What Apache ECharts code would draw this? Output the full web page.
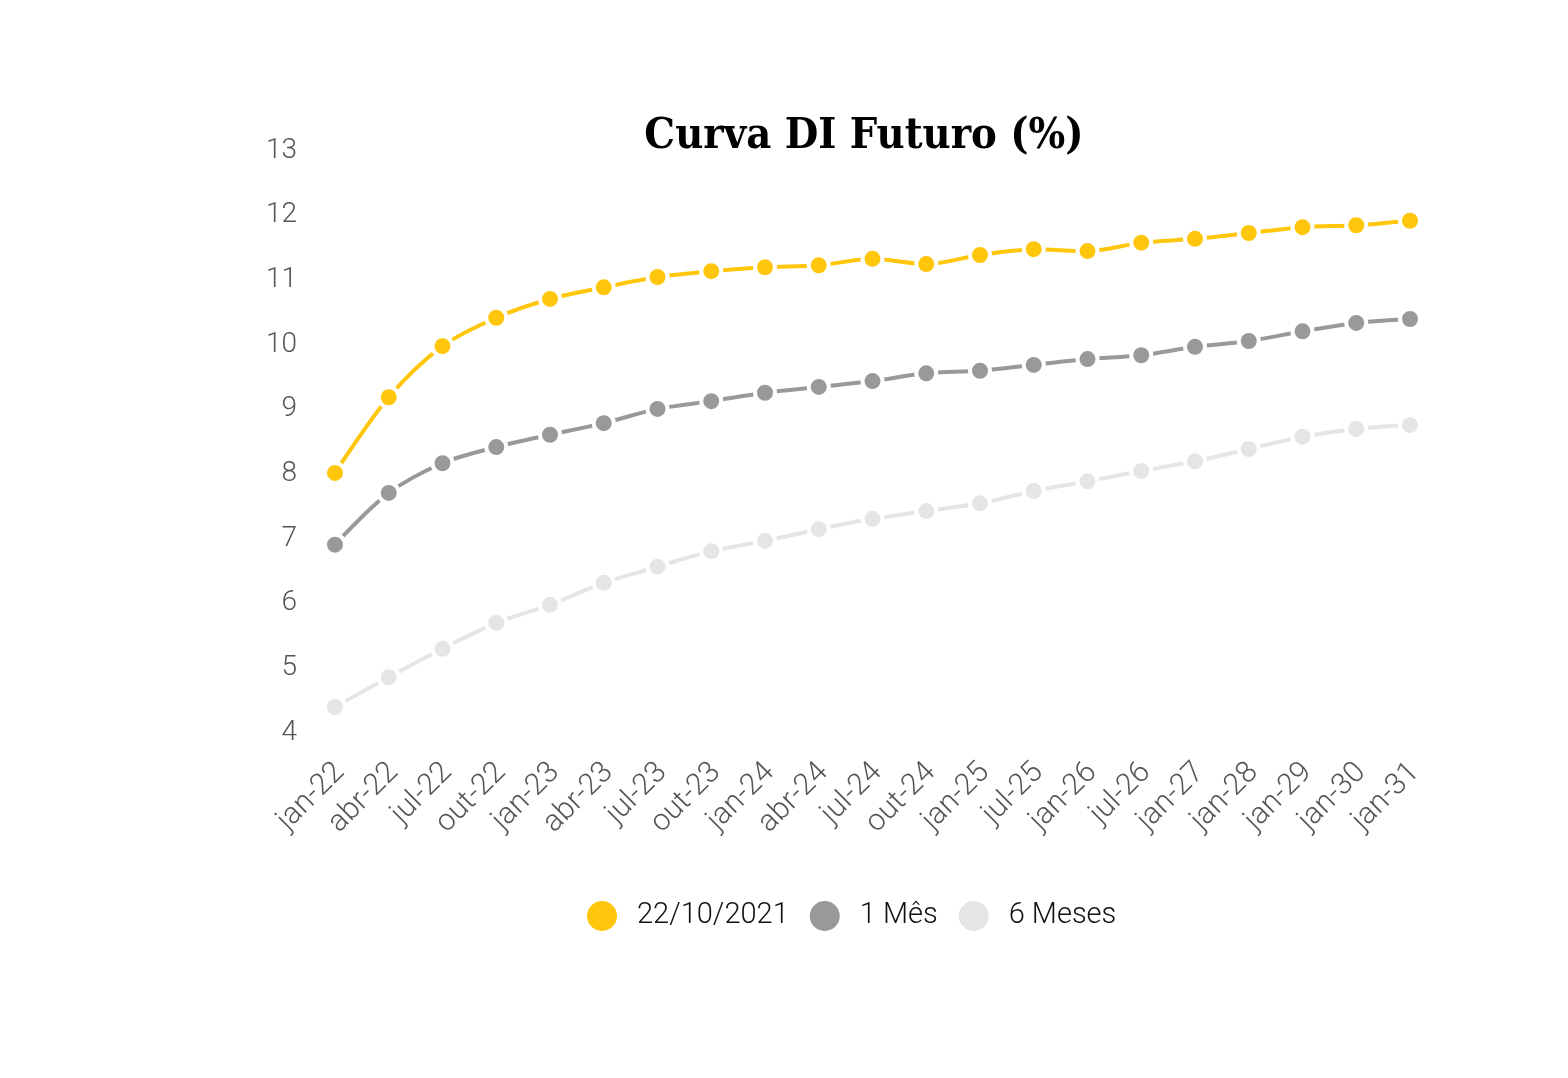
<!DOCTYPE html>
<html><head><meta charset="utf-8">
<script src="https://cdn.jsdelivr.net/npm/echarts@6/dist/echarts.min.js"></script>
<style>html,body{margin:0;padding:0;background:#fff}#c{width:1568px;height:1078px}</style>
</head><body><div id="c"></div>
<script>
const categories = ['jan-22','abr-22','jul-22','out-22','jan-23','abr-23','jul-23','out-23','jan-24','abr-24','jul-24','out-24','jan-25','jul-25','jan-26','jul-26','jan-27','jan-28','jan-29','jan-30','jan-31'];
const seriesNames = ['22/10/2021','1 Mês','6 Meses'];
const current = [7.96,9.13,9.92,10.36,10.65,10.83,10.99,11.08,11.14,11.17,11.27,11.19,11.33,11.42,11.39,11.52,11.58,11.67,11.76,11.79,11.86];
const oneMonth = [6.85,7.65,8.11,8.36,8.55,8.73,8.95,9.07,9.20,9.29,9.38,9.50,9.54,9.63,9.72,9.78,9.91,10.00,10.15,10.28,10.34];
const sixMonths = [4.34,4.80,5.24,5.64,5.92,6.26,6.51,6.75,6.91,7.09,7.25,7.37,7.49,7.68,7.83,7.99,8.14,8.33,8.52,8.64,8.70];
const colors = ['#FFC60B','#999999','#E5E5E5'];
const chart = echarts.init(document.getElementById('c'));
function mk(name, data, color){
  return {name, type:'line', data, smooth:0.3, symbol:'circle', symbolSize:20,
    lineStyle:{color, width:4}, itemStyle:{color, borderColor:'#fff', borderWidth:4}};
}
chart.setOption({
  animation:false,
  title:{text:'Curva DI Futuro (%)', left:859, top:110, textAlign:'center',
    textStyle:{fontFamily:'DejaVu Serif Condensed, DejaVu Serif', fontWeight:'bold', fontSize:43, color:'#000'}},
  grid:{left:335, right:158, top:147, bottom:349},
  legend:{top:894, left:580, itemWidth:32, itemHeight:32, itemGap:19, icon:'circle',
    textStyle:{fontFamily:'Roboto', fontWeight:300, fontSize:29, color:'#111', padding:[0,0,0,14]},
    data:seriesNames},
  xAxis:{type:'category', data:categories, boundaryGap:false,
    axisLine:{show:false}, axisTick:{show:false}, splitLine:{show:false},
    axisLabel:{rotate:45, interval:0, margin:34, formatter:v=>'{a|'+v+'}',
      rich:{a:{padding:[14,0,0,0], fontFamily:'Roboto', fontWeight:300, fontSize:30, color:'#555'}},
      fontFamily:'Roboto', fontWeight:300, fontSize:30, color:'#555'}},
  yAxis:{type:'value', min:4, max:13, interval:1,
    axisLine:{show:false}, axisTick:{show:false}, splitLine:{show:false},
    axisLabel:{margin:38, formatter:v=>'{a|'+v+'}',
      rich:{a:{padding:[7,0,0,0], fontFamily:'Roboto', fontWeight:300, fontSize:28, color:'#555'}},
      fontFamily:'Roboto', fontWeight:300, fontSize:28, color:'#555'}},
  series:[mk(seriesNames[0],current,colors[0]), mk(seriesNames[1],oneMonth,colors[1]), mk(seriesNames[2],sixMonths,colors[2])]
});
</script></body></html>
